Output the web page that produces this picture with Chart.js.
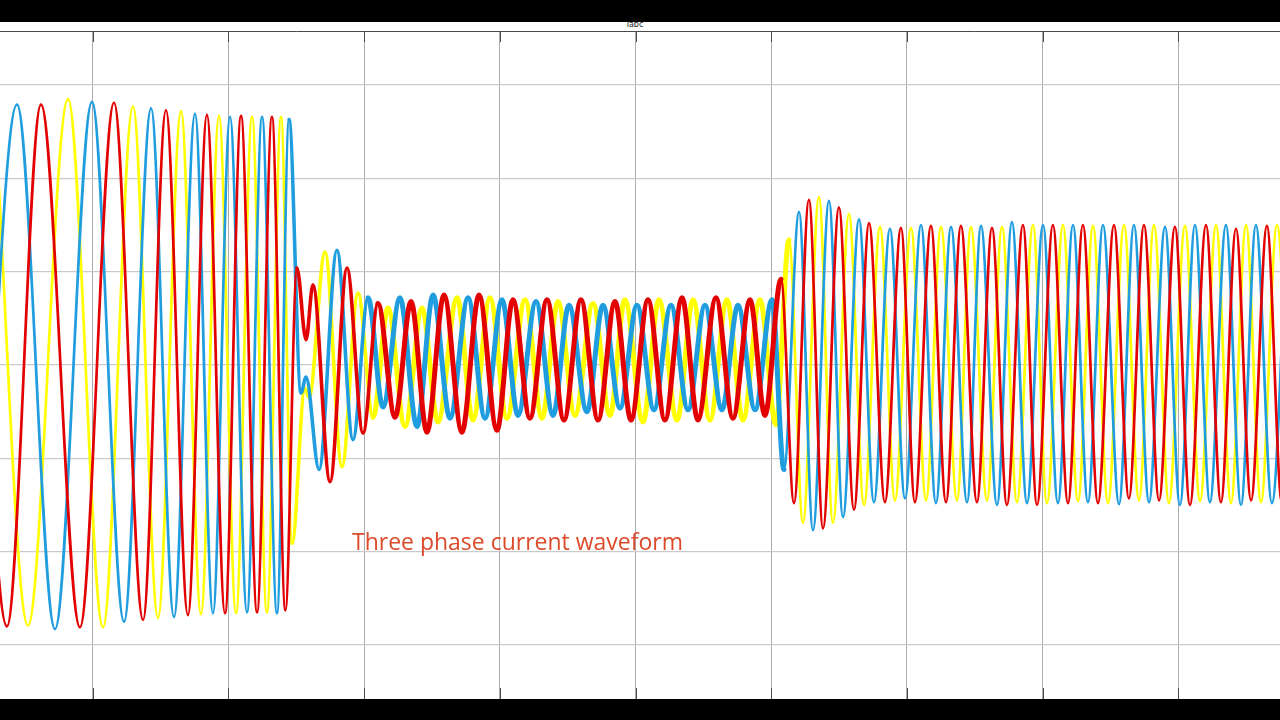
<!DOCTYPE html>
<html><head><meta charset="utf-8">
<script src="https://cdn.jsdelivr.net/npm/chart.js@4.4.1/dist/chart.umd.min.js"></script>
<style>
html,body{margin:0;padding:0;background:#000;width:1280px;height:720px;overflow:hidden;}
#panel{position:absolute;left:0;top:22px;width:1280px;height:677px;background:#fff;overflow:hidden;}
#wrap{position:absolute;left:-43px;top:9px;width:1357px;height:668px;}
#title{position:absolute;top:20px;left:0;width:1270px;text-align:center;font:8px/9px "DejaVu Sans",sans-serif;color:#222;}
#note{position:absolute;left:352px;top:530px;font:23px/23px "Open Sans",sans-serif;color:#dd4a2a;white-space:nowrap;transform-origin:0 0;}
</style></head>
<body>
<div id="panel"><div id="wrap"><canvas id="c"></canvas></div></div>
<div id="title">iabc</div>
<div id="note">Three phase current waveform</div>
<script>
// time in ms, current in A
const tRed = [11.1,36.8,61.9,90.6,115.7,137.1,154.0,170.2,184.2,197.5,209.3,221.1,232.1,242.0,250.5,257.2,262.3,274.9,287.4,299.2,310.2,322.8,334.6,346.3,358.9,372.1,384.7,397.9,409.7,422.2,434.8,447.3,459.8,472.4,484.9,496.7,509.2,521.7,534.3,546.0,559.3,571.8,584.4,595.4,607.2,616.8,627.8,638.2,649.9,661.0,672.1,683.8,695.6,705.9,717.7,728.8,739.8,751.6,762.7,773.7,785.5,795.9,807.6,818.7,829.7,840.8,852.6,863.6,874.7,885.8,897.5,908.6,920.4,931.4,942.5,953.6,965.3,976.4,987.5];
const iRed = [27.9,-28.0,27.9,-28.1,28.1,-27.3,27.3,-26.8,26.8,-26.6,26.7,-26.5,26.6,-26.3,10.4,2.7,8.6,-12.5,10.4,-7.3,6.6,-5.6,6.8,-7.2,7.5,-7.2,7.5,-7.0,7.0,-5.7,7.0,-5.9,7.0,-5.9,6.8,-5.9,7.0,-5.9,7.2,-5.9,7.2,-5.7,7.0,-5.4,9.2,-14.8,17.7,-17.5,16.9,-15.5,15.2,-14.7,14.7,-14.7,14.9,-14.7,14.9,-14.7,14.7,-15.0,15.0,-15.0,15.0,-14.8,15.0,-14.8,15.0,-14.3,15.0,-14.5,14.8,-15.0,15.0,-14.7,14.6,-14.5,14.9,-14.8,15.0];

const tBlue = [16.9,44.2,72.2,99.5,123.1,143.0,159.9,175.4,188.6,201.2,213.7,224.8,235.8,244.7,253.5,257.2,266.8,280.0,291.8,302.9,313.9,326.4,339.0,350.8,363.3,376.6,389.1,401.6,413.4,426.7,439.2,451.0,464.2,476.0,488.6,501.1,513.6,526.1,538.7,551.2,563.7,575.5,588.1,600.6,609.4,620.5,630.8,642.6,652.9,664.7,675.7,687.5,698.6,710.4,721.4,732.5,744.3,754.6,766.4,777.4,788.5,800.3,811.3,822.4,833.4,844.5,856.3,867.3,878.4,890.2,901.2,912.3,923.3,935.1,946.2,957.2,969.0,980.1];
const iBlue = [-28.2,27.9,-28.3,28.2,-27.5,27.5,-27.0,26.9,-26.6,26.6,-26.5,26.6,-26.6,26.3,-3.0,-1.3,-11.2,12.3,-8.0,7.2,-4.5,7.2,-6.6,7.5,-5.7,7.2,-5.7,7.0,-5.4,6.8,-5.4,6.4,-5.0,6.4,-4.6,6.4,-4.8,6.4,-4.8,6.4,-4.8,6.4,-4.8,7.0,-11.2,16.4,-17.7,17.6,-16.3,15.6,-14.7,14.6,-14.3,15.0,-14.8,14.8,-14.7,14.9,-15.0,15.3,-14.8,15.0,-14.8,15.0,-14.7,15.0,-14.9,15.0,-14.7,14.8,-15.0,15.0,-14.7,15.0,-15.0,15.0,-14.8,15.0];

const tYellow = [27.3,52.3,81.8,107.6,129.7,148.1,165.1,179.8,193.1,205.6,217.4,228.4,238.8,246.9,256.4,259.4,271.2,283.7,295.5,306.6,317.6,330.1,342.7,354.4,368.5,380.2,392.8,405.3,418.6,431.1,442.9,455.4,468.7,481.2,492.2,505.5,517.3,530.6,542.4,554.9,567.4,579.2,591.7,603.5,613.1,623.4,635.2,645.5,657.3,668.4,680.2,691.2,703.0,714.1,725.1,736.9,747.2,759.0,770.1,781.1,792.9,803.2,815.0,826.1,837.1,848.2,860.0,871.0,882.1,893.1,904.9,916.0,927.8,938.8,949.9,960.9,972.7,983.8];
const iYellow = [28.1,-27.9,28.5,-28.1,27.7,-27.1,27.2,-26.7,26.7,-26.6,26.6,-26.5,26.6,-19.1,-2.5,-3.5,12.1,-10.9,7.7,-5.6,6.1,-6.6,6.1,-6.1,7.2,-5.9,7.2,-5.7,7.0,-5.7,6.8,-5.4,6.6,-5.4,7.0,-6.1,7.0,-5.9,7.0,-5.9,7.0,-5.9,7.0,-6.4,13.4,-16.9,18.0,-16.9,16.2,-15.0,14.8,-14.5,14.7,-14.5,14.8,-14.5,14.8,-14.5,14.8,-14.7,15.0,-14.8,15.0,-14.6,14.9,-14.8,15.0,-14.5,15.0,-14.8,14.9,-14.6,15.0,-14.8,15.0,-14.7,15.0,-14.8];

const xTicks = [0,100,200,300,400,500,600,700,800,900,1000];
const yTicks = [-30,-20,-10,0,10,20,30];
const xRange = [0, 1000];
const yRange = [-35.79, 35.79];

function pts(t, v) { return t.map((x, i) => ({ x: x, y: v[i] })); }

function segWidth(ctx) {
  const x = ctx.p0.parsed.x;
  if (x >= 300 && x < 604) return 5;
  if (x >= 244 && x < 300) return 3.6;
  return 2.7;
}

const frame = {
  id: 'frame',
  beforeDatasetsDraw(chart) {
    const c = chart.ctx, a = chart.chartArea, sx = chart.scales.x;
    c.save();
    c.strokeStyle = '#4a4a4a';
    c.lineWidth = 1;
    c.beginPath();
    c.moveTo(a.left, a.top + 0.5); c.lineTo(a.right, a.top + 0.5);
    sx.ticks.forEach(tk => {
      const p = Math.round(sx.getPixelForValue(tk.value)) + 0.5;
      c.moveTo(p, a.top); c.lineTo(p, a.top + 11);
      c.moveTo(p, a.bottom); c.lineTo(p, a.bottom - 11);
    });
    c.stroke();
    c.restore();
  }
};

const ds = (label, t, v, color) => ({
  label: label, data: pts(t, v), borderColor: color, backgroundColor: color,
  borderWidth: 2.7, pointRadius: 0, fill: false,
  cubicInterpolationMode: 'monotone', tension: 0.4,
  borderJoinStyle: 'round', borderCapStyle: 'round',
  segment: { borderWidth: segWidth }
});

new Chart(document.getElementById('c'), {
  type: 'line',
  data: { datasets: [
    ds('ia', tRed, iRed, '#e30000'),
    ds('ib', tBlue, iBlue, '#1f9ddf'),
    ds('ic', tYellow, iYellow, '#ffff00')
  ]},
  options: {
    animation: false, responsive: true, maintainAspectRatio: false,
    layout: { padding: 0 },
    plugins: { legend: { display: false }, tooltip: { enabled: false }, title: { display: false } },
    scales: {
      x: { type: 'linear', min: xRange[0], max: xRange[1],
           afterBuildTicks: s => { s.ticks = xTicks.map(v => ({ value: v })); },
           ticks: { display: false }, grid: { color: '#ababab', lineWidth: 1, drawTicks: false }, border: { display: false } },
      y: { type: 'linear', min: yRange[0], max: yRange[1],
           afterBuildTicks: s => { s.ticks = yTicks.map(v => ({ value: v })); },
           ticks: { display: false }, grid: { color: '#cacaca', lineWidth: 1.2, drawTicks: false }, border: { display: false } }
    }
  },
  plugins: [frame]
});

const note = document.getElementById('note');
const w = note.getBoundingClientRect().width;
if (w > 0) note.style.transform = 'scaleX(' + (331 / w) + ')';
</script>
</body></html>
